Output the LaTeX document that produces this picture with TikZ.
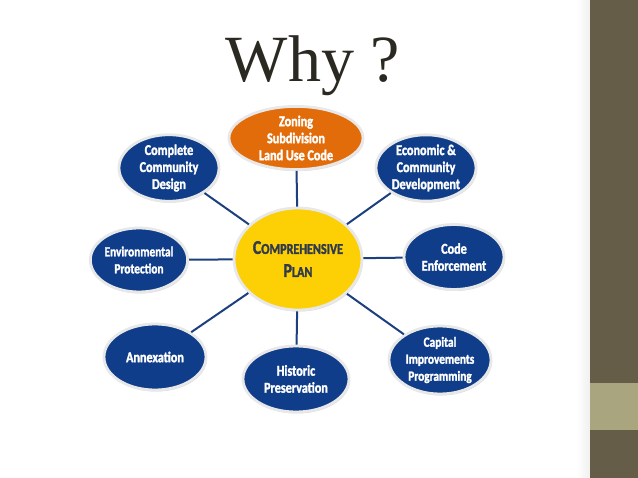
\documentclass[tikz,border=0pt]{standalone}
\usepackage{fontspec}
\setmainfont{Liberation Serif}
\newfontfamily\carlito[FakeStretch=0.81,FakeBold=1.8]{Carlito}
\usetikzlibrary{shapes.geometric,shadows}
\definecolor{nodeblue}{HTML}{0F3D8A}
\definecolor{linkblue}{HTML}{1C3F7E}
\definecolor{orangefill}{HTML}{E36C0A}
\definecolor{yellowfill}{HTML}{FDCF05}
\definecolor{centertext}{HTML}{2F3A4C}
\definecolor{bardark}{HTML}{655D48}
\definecolor{barlight}{HTML}{A9A57E}
\definecolor{titletext}{HTML}{2B2A22}
\definecolor{rimgray}{HTML}{E8E8E8}
\tikzset{
  oval/.style={ellipse, draw=rimgray, line width=2.8pt, inner sep=0pt,
    drop shadow={shadow xshift=1pt, shadow yshift=-1.5pt, opacity=0.3},
    align=center, font=\carlito\bfseries\fontsize{15}{17}\selectfont},
  blueoval/.style={oval, fill=nodeblue, text=white},
  link/.style={draw=linkblue, line width=2pt},
}
\begin{document}
\begin{tikzpicture}[x=1pt,y=-1pt]
\useasboundingbox (0,0) rectangle (638,478);
\fill[white] (0,0) rectangle (638,478);
\shade[left color=white, right color=black!6] (576,0) rectangle (590,478);
\fill[bardark] (590,0) rectangle (638,478);
\fill[barlight] (590,383) rectangle (638,430);
\node[font=\fontsize{66}{70}\selectfont, text=titletext, anchor=base] (title) at (313,82) {Why ?};

\node[oval, fill=yellowfill, text=centertext, minimum width=128pt, minimum height=102pt,
  font=\carlito\bfseries\fontsize{19.5}{23}\selectfont] (c) at (298,259)
  {C{\fontsize{15}{23}\selectfont OMPREHENSIVE}\\P{\fontsize{15}{23}\selectfont LAN}};
\node[oval, fill=orangefill, text=white, minimum width=134pt, minimum height=62pt] (z) at (296,138) {Zoning\\Subdivision\\Land Use Code};
\node[blueoval, minimum width=100pt, minimum height=65pt] (ccd) at (169,168) {Complete\\Community\\Design};
\node[blueoval, minimum width=96pt, minimum height=64pt, font=\carlito\bfseries\fontsize{14}{17}\selectfont] (env) at (139,260) {Environmental\\Protection};
\node[blueoval, minimum width=100pt, minimum height=66pt] (eco) at (426,168) {Economic \&\\Community\\Development};
\node[blueoval, minimum width=100pt, minimum height=65pt] (code) at (454,257) {Code\\Enforcement};
\node[blueoval, minimum width=102pt, minimum height=66pt] (ann) at (155,357) {Annexation};
\node[blueoval, minimum width=106pt, minimum height=66pt] (hist) at (296,379) {Historic\\Preservation};
\node[blueoval, minimum width=102pt, minimum height=68pt, font=\carlito\bfseries\fontsize{14}{17}\selectfont] (cap) at (440,360) {Capital\\Improvements\\Programming};

\draw[link] (c) -- (z);
\draw[link] (c) -- (ccd);
\draw[link] (c) -- (env);
\draw[link] (c) -- (eco);
\draw[link] (c) -- (code);
\draw[link] (c) -- (ann);
\draw[link] (c) -- (hist);
\draw[link] (c) -- (cap);
\end{tikzpicture}
\end{document}
